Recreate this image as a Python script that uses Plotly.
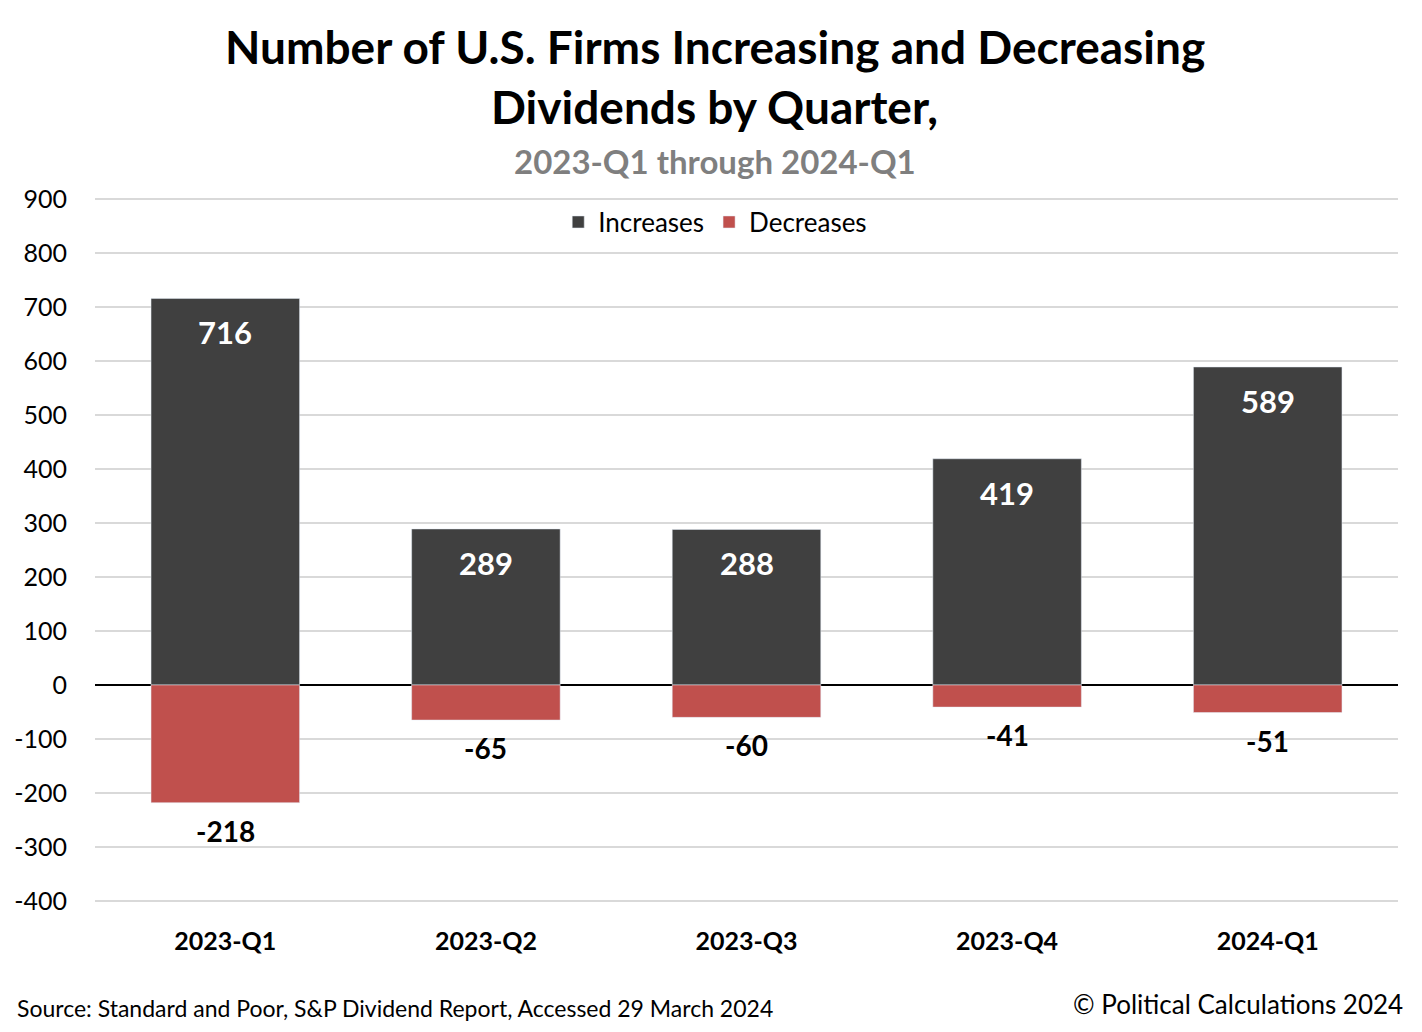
import plotly.graph_objects as go

quarters = ["2023-Q1", "2023-Q2", "2023-Q3", "2023-Q4", "2024-Q1"]
increases = [716, 289, 288, 419, 589]
decreases = [-218, -65, -60, -41, -51]
y_ticks = list(range(-400, 1000, 100))
y_tick_text = [str(v) for v in y_ticks]

FONT = "Lato"

fig = go.Figure()
fig.add_trace(go.Bar(x=quarters, y=increases, name="Increases",
                     marker_color="#404040"))
fig.add_trace(go.Bar(x=quarters, y=decreases, name="Decreases",
                     marker_color="#C0504D"))

# value labels
for q, v in zip(quarters, increases):
    fig.add_annotation(x=q, y=v, text="<b>%d</b>" % v, showarrow=False,
                       yshift=-34, font=dict(family=FONT, size=31, color="white"))
for q, v in zip(quarters, decreases):
    fig.add_annotation(x=q, y=v, text="<b>%d</b>" % v, showarrow=False,
                       yshift=-28, font=dict(family=FONT, size=28, color="black"))

# titles
fig.add_annotation(text="<b>Number of U.S. Firms Increasing and Decreasing</b>",
                   xref="paper", yref="paper", x=0.4758, y=1.215, showarrow=False,
                   xanchor="center", yanchor="middle",
                   font=dict(family=FONT, size=46, color="black"))
fig.add_annotation(text="<b>Dividends by Quarter,</b>",
                   xref="paper", yref="paper", x=0.4758, y=1.1296, showarrow=False,
                   xanchor="center", yanchor="middle",
                   font=dict(family=FONT, size=46, color="black"))
fig.add_annotation(text="<b>2023-Q1 through 2024-Q1</b>",
                   xref="paper", yref="paper", x=0.4758, y=1.0527, showarrow=False,
                   xanchor="center", yanchor="middle",
                   font=dict(family=FONT, size=33, color="#7f7f7f"))

fig.add_annotation(text="Source: Standard and Poor, S&P Dividend Report, Accessed 29 March 2024",
                   xref="paper", yref="paper", x=-0.0614, y=-0.151, xanchor="left", yanchor="middle",
                   showarrow=False, font=dict(family=FONT, size=23, color="black"))
fig.add_annotation(text="© Political Calculations 2024",
                   xref="paper", yref="paper", x=1.0054, y=-0.1453, xanchor="right", yanchor="middle",
                   showarrow=False, font=dict(family=FONT, size=26, color="black"))

fig.update_layout(
    width=1414, height=1024,
    barmode="overlay",
    bargap=0.43,
    plot_bgcolor="white", paper_bgcolor="white",
    margin=dict(l=87, r=24, t=190, b=130),
    legend=dict(orientation="h", x=0.476, xanchor="center", y=0.9658, yanchor="middle",
                font=dict(family=FONT, size=26, color="black"), bgcolor="rgba(0,0,0,0)",
                traceorder="normal"),
    font=dict(family=FONT),
)
fig.update_yaxes(range=[-402, 902], tickvals=y_ticks, ticktext=y_tick_text, automargin=False,
                 showgrid=True, gridcolor="#d9d9d9",
                 gridwidth=1.5, zeroline=True, zerolinecolor="black", zerolinewidth=1.5,
                 tickfont=dict(family=FONT, size=25, color="black"), ticks="", ticklabelstandoff=27)
fig.update_xaxes(showline=False, automargin=False, tickfont=dict(family=FONT, size=25, color="black"),
                 tickprefix="<b>", ticksuffix="</b>", ticklabelstandoff=22)

fig.write_html("out.html")
